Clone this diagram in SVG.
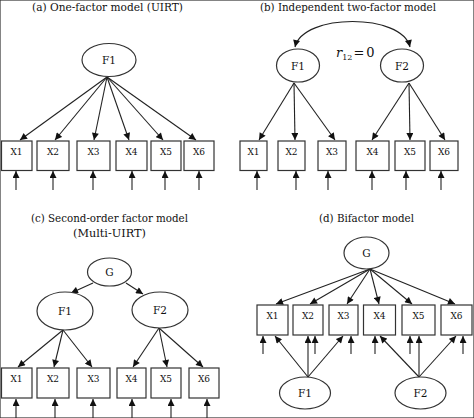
<svg xmlns="http://www.w3.org/2000/svg" width="474" height="418" viewBox="0 0 474 418">
<style>
text{fill:#111;font-family:"DejaVu Serif","Liberation Serif",serif}
.t{font-size:11px;text-anchor:middle}
.n{font-size:10.5px;text-anchor:middle}
.x{font-size:9px;text-anchor:middle}
ellipse,rect{fill:#fff;stroke:#333;stroke-width:1.2}
.c line,.c path{stroke:#222;stroke-width:1.1;fill:none;marker-end:url(#a)}
</style>
<defs>
<marker id="a" viewBox="0 0 10 10" refX="10" refY="5" markerUnits="userSpaceOnUse" markerWidth="8" markerHeight="7" orient="auto-start-reverse"><path d="M0,0L10,5L0,10z" fill="#111"/></marker>
</defs>
<rect x="0" y="0" width="474" height="418" fill="#fff" stroke="none"/>
<text class="t" x="107.5" y="11" textLength="151" lengthAdjust="spacingAndGlyphs">(a) One-factor model (UIRT)</text>
<text class="t" x="348" y="11" textLength="176" lengthAdjust="spacingAndGlyphs">(b) Independent two-factor model</text>
<text class="t" x="109.5" y="222" textLength="157" lengthAdjust="spacingAndGlyphs">(c) Second-order factor model</text>
<text class="t" x="109.5" y="237" textLength="73" lengthAdjust="spacingAndGlyphs">(Multi-UIRT)</text>
<text class="t" x="366.5" y="222" textLength="95" lengthAdjust="spacingAndGlyphs">(d) Bifactor model</text>
<text x="336" y="57" font-size="13"><tspan font-style="italic">r</tspan><tspan font-size="8" dy="3">12</tspan><tspan dy="-3" dx="1">=</tspan><tspan dx="2">0</tspan></text>

<g class="c" id="connectors">
<line x1="107" y1="77" x2="20" y2="140"/><line x1="107" y1="77" x2="55" y2="140"/><line x1="107" y1="77" x2="94" y2="140"/><line x1="107" y1="77" x2="129" y2="140"/><line x1="107" y1="77" x2="163" y2="140"/><line x1="107" y1="77" x2="196" y2="140"/>
<line x1="16" y1="190" x2="16" y2="171"/><line x1="53" y1="190" x2="53" y2="171"/><line x1="93" y1="190" x2="93" y2="171"/><line x1="132" y1="190" x2="132" y2="171"/><line x1="165" y1="190" x2="165" y2="171"/><line x1="199" y1="190" x2="199" y2="171"/>
<path d="M295 47C303 13 402 13 410 47" style="marker-start:url(#a)"/>
<line x1="294" y1="83" x2="259" y2="140"/><line x1="294" y1="83" x2="295" y2="140"/><line x1="294" y1="83" x2="335" y2="140"/>
<line x1="409" y1="83" x2="372" y2="140"/><line x1="409" y1="83" x2="410" y2="140"/><line x1="409" y1="83" x2="445" y2="140"/>
<line x1="257" y1="190" x2="257" y2="171"/><line x1="296" y1="190" x2="296" y2="171"/><line x1="328" y1="190" x2="328" y2="171"/><line x1="372" y1="190" x2="372" y2="171"/><line x1="406" y1="190" x2="406" y2="171"/><line x1="441" y1="190" x2="441" y2="171"/>
<line x1="93" y1="283" x2="71" y2="293"/><line x1="126" y1="283" x2="143" y2="294"/>
<line x1="63" y1="330" x2="18" y2="367"/><line x1="63" y1="330" x2="54" y2="367"/><line x1="63" y1="330" x2="92" y2="367"/>
<line x1="159" y1="328" x2="133" y2="367"/><line x1="159" y1="328" x2="167" y2="367"/><line x1="159" y1="328" x2="203" y2="367"/>
<line x1="16" y1="418" x2="16" y2="399"/><line x1="55" y1="418" x2="55" y2="399"/><line x1="93" y1="418" x2="93" y2="399"/><line x1="132" y1="418" x2="132" y2="399"/><line x1="171" y1="418" x2="171" y2="399"/><line x1="207" y1="418" x2="207" y2="399"/>
<line x1="370" y1="269" x2="276" y2="304"/><line x1="370" y1="269" x2="310" y2="304"/><line x1="370" y1="269" x2="347" y2="304"/><line x1="370" y1="269" x2="379" y2="304"/><line x1="370" y1="269" x2="412" y2="304"/><line x1="370" y1="269" x2="455" y2="304"/>
<line x1="263" y1="354" x2="263" y2="336"/><line x1="315" y1="354" x2="315" y2="336"/><line x1="351" y1="354" x2="351" y2="336"/><line x1="375" y1="354" x2="375" y2="336"/><line x1="410" y1="354" x2="410" y2="336"/><line x1="463" y1="354" x2="463" y2="336"/>
<line x1="308" y1="377" x2="275" y2="336"/><line x1="308" y1="377" x2="308" y2="336"/><line x1="308" y1="377" x2="343" y2="336"/>
<line x1="419" y1="377" x2="380" y2="336"/><line x1="419" y1="377" x2="419" y2="336"/><line x1="419" y1="377" x2="456" y2="336"/>
</g>

<g id="a-F1"><ellipse cx="109" cy="60" rx="27" ry="16.5"/><text class="n" x="109" y="64">F1</text></g>
<g id="a-X1"><rect x="1.5" y="141" width="30.5" height="29.5"/><text class="x" x="16.5" y="155">X1</text></g>
<g id="a-X2"><rect x="37" y="141" width="32" height="29.5"/><text class="x" x="53" y="155">X2</text></g>
<g id="a-X3"><rect x="77" y="141" width="33" height="29.5"/><text class="x" x="93.5" y="155">X3</text></g>
<g id="a-X4"><rect x="116" y="141" width="31" height="29.5"/><text class="x" x="131.5" y="155">X4</text></g>
<g id="a-X5"><rect x="151" y="141" width="30" height="29.5"/><text class="x" x="166" y="155">X5</text></g>
<g id="a-X6"><rect x="184" y="141" width="30" height="29.5"/><text class="x" x="199" y="155">X6</text></g>

<g id="b-F1"><ellipse cx="298" cy="65.5" rx="21.5" ry="16.5"/><text class="n" x="298" y="69.5">F1</text></g>
<g id="b-F2"><ellipse cx="402" cy="65.5" rx="21.5" ry="16.5"/><text class="n" x="402" y="69.5">F2</text></g>
<g id="b-X1"><rect x="240" y="141" width="27" height="29.5"/><text class="x" x="253.5" y="155">X1</text></g>
<g id="b-X2"><rect x="278" y="141" width="27" height="29.5"/><text class="x" x="291.5" y="155">X2</text></g>
<g id="b-X3"><rect x="318" y="141" width="28" height="29.5"/><text class="x" x="332" y="155">X3</text></g>
<g id="b-X4"><rect x="356" y="141" width="33" height="29.5"/><text class="x" x="372.5" y="155">X4</text></g>
<g id="b-X5"><rect x="395" y="141" width="30" height="29.5"/><text class="x" x="410" y="155">X5</text></g>
<g id="b-X6"><rect x="430" y="141" width="28" height="29.5"/><text class="x" x="444" y="155">X6</text></g>

<g id="c-G"><ellipse cx="109.5" cy="272" rx="22" ry="14"/><text class="n" x="109.5" y="276">G</text></g>
<g id="c-F1"><ellipse cx="65" cy="311" rx="28" ry="19"/><text class="n" x="65" y="315">F1</text></g>
<g id="c-F2"><ellipse cx="160" cy="310" rx="28" ry="18"/><text class="n" x="160" y="314">F2</text></g>
<g id="c-X1"><rect x="1.5" y="368" width="30.5" height="30"/><text class="x" x="16.5" y="382">X1</text></g>
<g id="c-X2"><rect x="37" y="368" width="32" height="30"/><text class="x" x="53" y="382">X2</text></g>
<g id="c-X3"><rect x="77" y="368" width="33" height="30"/><text class="x" x="93.5" y="382">X3</text></g>
<g id="c-X4"><rect x="117" y="368" width="29" height="30"/><text class="x" x="131.5" y="382">X4</text></g>
<g id="c-X5"><rect x="151" y="368" width="30" height="30"/><text class="x" x="166" y="382">X5</text></g>
<g id="c-X6"><rect x="189" y="368" width="30" height="30"/><text class="x" x="204" y="382">X6</text></g>

<g id="d-G"><ellipse cx="366.5" cy="253" rx="22.5" ry="16"/><text class="n" x="366.5" y="257">G</text></g>
<g id="d-X1"><rect x="257" y="305" width="31" height="30"/><text class="x" x="272.5" y="319">X1</text></g>
<g id="d-X2"><rect x="293" y="305" width="30" height="30"/><text class="x" x="308" y="319">X2</text></g>
<g id="d-X3"><rect x="329" y="305" width="29" height="30"/><text class="x" x="343.5" y="319">X3</text></g>
<g id="d-X4"><rect x="363.5" y="305" width="32" height="30"/><text class="x" x="379.5" y="319">X4</text></g>
<g id="d-X5"><rect x="402" y="305" width="33" height="30"/><text class="x" x="418.5" y="319">X5</text></g>
<g id="d-X6"><rect x="441" y="305" width="31" height="30"/><text class="x" x="456.5" y="319">X6</text></g>
<g id="d-F1"><ellipse cx="305" cy="393" rx="25.5" ry="16"/><text class="n" x="305" y="397">F1</text></g>
<g id="d-F2"><ellipse cx="420.5" cy="393" rx="25.5" ry="16"/><text class="n" x="420.5" y="397">F2</text></g>
</svg>
